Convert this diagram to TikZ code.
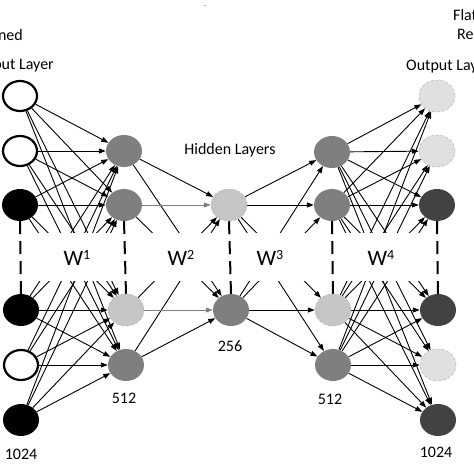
\documentclass[tikz,border=0pt]{standalone}
\usepackage{fontspec}
\setmainfont{Carlito}
\usetikzlibrary{shapes.geometric,arrows.meta,backgrounds}
\definecolor{midgray}{HTML}{7F7F7F}
\definecolor{lightgray}{HTML}{C6C6C6}
\definecolor{palegray}{HTML}{E0E0E0}
\definecolor{darkgray}{HTML}{424242}
\tikzset{
  neuron/.style={
    % The shape:
    ellipse,inner sep=0pt,
    % The size:
    minimum width=36pt,minimum height=32pt,
    % The border:
    draw=none},
  blank/.style={neuron,fill=white,draw=black,line width=2.2pt,
    minimum width=34pt,minimum height=30pt},
  solid/.style={neuron,fill=black},
  mid/.style={neuron,fill=midgray},
  light/.style={neuron,fill=lightgray,draw=gray!60,densely dashed,line width=0.5pt},
  pale/.style={neuron,fill=palegray,draw=gray!60,densely dashed,line width=0.5pt},
  deep/.style={neuron,fill=darkgray},
  link/.style={-{Triangle[length=7pt,width=5pt]},line width=0.9pt},
  gap/.style={line width=2pt,dash pattern=on 13pt off 7pt},
  lbl/.style={font=\fontsize{16}{16}\selectfont,inner sep=0pt}}
\newcommand{\wlab}[1]{W\raisebox{5.4pt}{\fontsize{14}{14}\selectfont #1}}

\begin{document}
\begin{tikzpicture}[x=1pt,y=-1pt]
	\useasboundingbox (0,0) rectangle (474,474);
	\clip (0,0) rectangle (474,474);
	% Input layer
	\node[blank] (i1) at (20,96) {};
	\node[blank] (i2) at (20,151) {};
	\node[solid] (i3) at (20,205) {};
	\node[solid] (i4) at (21,310) {};
	\node[blank] (i5) at (21,365) {};
	\node[solid] (i6) at (21,420) {};
	% First hidden layer
	\node[mid] (ha1) at (124,151) {};
	\node[mid] (ha2) at (124,205) {};
	\node[light] (ha3) at (126,310) {};
	\node[mid] (ha4) at (126,365) {};
	% Middle hidden layer
	\node[light] (hb1) at (229,205) {};
	\node[mid] (hb2) at (231,310) {};
	% Third hidden layer
	\node[mid] (hc1) at (332,152) {};
	\node[mid] (hc2) at (332,205) {};
	\node[light] (hc3) at (333,310) {};
	\node[mid] (hc4) at (333,365) {};
	% Output layer
	\node[pale] (o1) at (437,96) {};
	\node[pale] (o2) at (437,151) {};
	\node[deep] (o3) at (437,205) {};
	\node[deep] (o4) at (438,310) {};
	\node[pale] (o5) at (438,365) {};
	\node[deep] (o6) at (438,420) {};
	\begin{pgfonlayer}{background}
		% Lines out of the input layer
		\foreach \i in {1,...,6}
			\foreach \j in {1,...,4}
				\draw[link] (i\i) -- (ha\j);
		% Lines out of the first hidden layer
		\foreach \i/\j in {1/1,1/2,2/2,3/1,4/1,4/2}
			\draw[link] (ha\i) -- (hb\j);
		\draw[link,midgray] (ha2) -- (hb1);
		\draw[link,midgray] (ha3) -- (hb2);
		% Lines out of the middle layer
		\foreach \i in {1,2}
			\foreach \j in {1,...,4}
				\draw[link] (hb\i) -- (hc\j);
		% Lines out of the third hidden layer
		\foreach \i in {1,...,4}
			\foreach \j in {1,...,6}
				\draw[link] (hc\i) -- (o\j);
		% Cut between the two halves
		\fill[white] (0,233) rectangle (474,281);
	\end{pgfonlayer}
	% Dashed cuts
	\draw[gap] (i3.south) -- (i4.north);
	\draw[gap] (ha2.south) -- (ha3.north);
	\draw[gap] (hb1.south) -- (hb2.north);
	\draw[gap] (hc2.south) -- (hc3.north);
	\draw[gap] (o3.south) -- (o4.north);
	% Weights
	\node[lbl,font=\fontsize{22}{22}\selectfont,anchor=base] (w1) at (77,265) {\wlab{1}};
	\node[lbl,font=\fontsize{22}{22}\selectfont,anchor=base] (w2) at (181,265) {\wlab{2}};
	\node[lbl,font=\fontsize{22}{22}\selectfont,anchor=base] (w3) at (270,265) {\wlab{3}};
	\node[lbl,font=\fontsize{22}{22}\selectfont,anchor=base] (w4) at (381,265) {\wlab{4}};
	% Layer sizes
	\node[lbl,anchor=base] (n1) at (21,459) {1024};
	\node[lbl,anchor=base] (n2) at (124,403) {512};
	\node[lbl,anchor=base] (n3) at (230,351) {256};
	\node[lbl,anchor=base] (n4) at (330,404) {512};
	\node[lbl,anchor=base] (n5) at (436,457) {1024};
	% Titles
	\node[lbl,anchor=base] (hid) at (230,154) {Hidden Layers};
	\node[lbl,anchor=base east] (inA) at (23,40) {Flattened};
	\node[lbl,anchor=base east] (inB) at (54,69) {Input Layer};
	\node[lbl,anchor=base west] (outA) at (453,20) {Flattened};
	\node[lbl,anchor=base west] (outB) at (457,39) {Reconstructed};
	\node[lbl,anchor=base west] (outC) at (406,70) {Output Layer};
	\node[lbl,font=\fontsize{9}{9}\selectfont,text=gray] (tick) at (205,7) {-};
\end{tikzpicture}
\end{document}
